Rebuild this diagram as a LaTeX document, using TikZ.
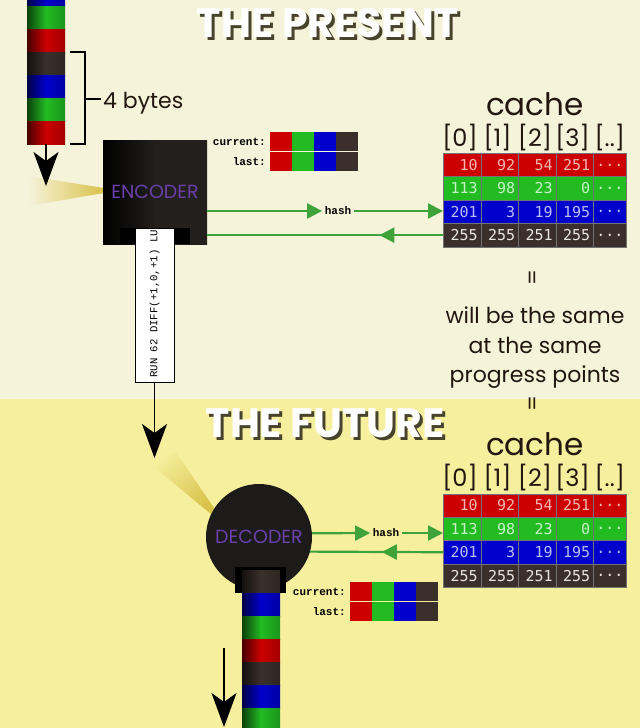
\documentclass[tikz,border=0pt]{standalone}
\usepackage{fontspec}
\setmainfont{Poppins}
\newfontfamily\cellfont{DejaVu Sans Mono}
\newfontfamily\typefont{Liberation Mono}
\usetikzlibrary{arrows.meta,decorations.markings,positioning}

\definecolor{bgtop}{HTML}{F6F3DB}
\definecolor{bgbot}{HTML}{F6EF9E}
\definecolor{bred}{HTML}{CC0000}
\definecolor{bgreen}{HTML}{22BB22}
\definecolor{bblue}{HTML}{0000CC}
\definecolor{bdark}{HTML}{3A2F2B}
\definecolor{tred}{HTML}{F4B4B4}
\definecolor{tgreen}{HTML}{C8F2C8}
\definecolor{tblue}{HTML}{BCBCF6}
\definecolor{tdark}{HTML}{E8E4E0}
\definecolor{wirecol}{HTML}{3FA33A}
\definecolor{boxtext}{HTML}{6A40A8}
\definecolor{beamcol}{HTML}{D8C24A}
\definecolor{inkcol}{HTML}{22160E}
\definecolor{shadowcol}{HTML}{48432C}
\definecolor{encgray}{HTML}{221F1D}
\definecolor{decgray}{HTML}{1D1B1A}

\tikzset{
  cell/.style={rectangle, anchor=north west, draw=black!55, line width=0.5pt,
    minimum width=37.5pt, minimum height=23.4pt, text width=31.5pt,
    inner xsep=3pt, inner ysep=0pt, align=right,
    font=\cellfont\fontsize{15}{15}\selectfont},
  dotcell/.style={minimum width=33pt, text width=27pt, align=center},
  headtext/.style={anchor=base, inner sep=0pt, text=inkcol, font=\fontsize{24}{24}\selectfont},
  pixcell/.style={rectangle, anchor=north west, minimum width=22pt, minimum height=19pt, inner sep=0pt},
  pixlabel/.style={inner sep=0pt, font=\typefont\bfseries\fontsize{11}{11}\selectfont},
  hashtext/.style={inner sep=2.5pt, font=\typefont\bfseries\fontsize{11}{11}\selectfont},
  titletext/.style={inner sep=0pt, font=\bfseries\fontsize{41}{41}\selectfont},
  bigtext/.style={anchor=base, inner sep=0pt, text=inkcol, font=\fontsize{31}{31}\selectfont},
  ink22/.style={inner sep=0pt, text=inkcol, font=\fontsize{22}{22}\selectfont},
  encbox/.style={rectangle, minimum width=104pt, minimum height=104pt, inner sep=0pt,
    left color=black, right color=encgray, middle color=encgray, text=boxtext,
    font=\fontsize{19}{19}\selectfont},
  decbox/.style={circle, minimum size=106pt, inner sep=0pt, outer sep=0pt,
    fill=decgray, text=boxtext, font=\fontsize{19}{19}\selectfont},
  tapebox/.style={rectangle, minimum width=39pt, minimum height=154pt, fill=white, draw=black, line width=1pt},
  wire/.style={draw=wirecol, line width=2.2pt},
  wiretip/.style={-{Triangle[length=15pt,width=15pt]}},
  midtip/.style={postaction={decorate}, decoration={markings,
    mark=at position #1 with {\arrow{Triangle[length=15pt,width=15pt]}}}},
  bigarrow/.style={draw=black, line width=1.6pt, -{Stealth[length=34pt,width=25pt,inset=9pt]}},
}

\newcommand{\bytestripe}[3]{%
  \shade[left color=#1!35!black, right color=#1!80!black, middle color=#1] (#2,#3) rectangle ++(38,23);}

\newcommand{\pixpair}[3]{%
  \foreach \c [count=\i from 0] in {bred,bgreen,bblue,bdark}{
    \node[pixcell, fill=\c] (#1-cur-\i) at ({#2+22*\i},#3) {};
    \node[pixcell, fill=\c] (#1-last-\i) at ({#2+22*\i},{#3+20}) {};
  }
  \node[pixlabel, left=4pt of #1-cur-0] (#1-curlab) {current:};
  \node[pixlabel, left=4pt of #1-last-0] (#1-lastlab) {last:};
}

\newcommand{\cachetable}[3]{%
  \foreach \fc/\tc/\vals [count=\r from 0] in {bred/tred/{10,92,54,251},bgreen/tgreen/{113,98,23,0},bblue/tblue/{201,3,19,195},bdark/tdark/{255,255,251,255}}{
    \foreach \v [count=\c from 0] in \vals
      \node[cell, fill=\fc, text=\tc] (#1-\r-\c) at ({#2+37.5*\c},{#3+23.4*\r}) {\v};
    \node[cell, dotcell, fill=\fc, text=\tc] (#1-\r-4) at ({#2+150},{#3+23.4*\r}) {...};
  }
  \foreach \c in {0,...,3}
    \node[headtext] (#1-h\c) at ([xshift=-2pt,yshift=7pt]#1-0-\c.north) {[\c]};
  \node[headtext] (#1-h4) at ([yshift=7pt]#1-0-4.north) {[..]};
}

\begin{document}
\begin{tikzpicture}[x=1pt,y=-1pt]
\useasboundingbox (0,0) rectangle (640,728);
\fill[bgtop] (0,0) rectangle (640,399);
\fill[bgbot] (0,399) rectangle (640,728);

% light beams
\shade[left color=bgtop, right color=beamcol] (28,176) -- (104,188) -- (104,193) -- (28,206) -- cycle;
\shade[top color=bgbot, bottom color=beamcol, shading angle=42] (146,460) -- (176,452) -- (216,511) -- (212,515) -- cycle;

% titles
\node[titletext, text=shadowcol] at (331,26) {THE PRESENT};
\node[titletext, text=white] (present) at (328,23) {THE PRESENT};
\node[titletext, text=shadowcol] at (328,426) {THE FUTURE};
\node[titletext, text=white] (future) at (325,423) {THE FUTURE};

% incoming bytes
\foreach \c [count=\i from 0] in {bblue,bgreen,bred,bdark,bblue,bgreen,bred}
  \bytestripe{\c}{27}{-17+23*\i};
\draw[line width=2pt] (70,52) -- (85,52) -- (85,144) -- (70,144);
\draw[line width=2pt] (85,99) -- (101,99);
\node[ink22, anchor=base west] (bytes) at (103,108) {4 bytes};
\coordinate (instart) at (46,144);
\coordinate (intip) at (46,186);
\draw[bigarrow] (instart) -- (intip);

% encoder
\node[encbox] (enc) at (155,192) {ENCODER};
\fill[black] (120,228) rectangle (190,244);
\node[tapebox] (tape) at (154.5,305) {};
\begin{scope}
\clip (tape.south west) rectangle (tape.north east);
\node[rotate=90, anchor=west, inner sep=0pt, font=\typefont\fontsize{10.7}{10.7}\selectfont] (tapetext) at (154.5,378) {RUN 62 DIFF(+1,0,+1) LU};
\end{scope}
\coordinate (futtip) at (154.5,458);
\draw[bigarrow] (tape.south) -- (futtip);

\pixpair{tp}{270}{132}

\node[bigtext] (tpcache) at (535,115) {cache};
\cachetable{tp}{443}{153}

\node[hashtext, fill=bgtop] (tphash) at (338,211) {hash};
\draw[wire, wiretip] (enc.east |- tphash) -- (tphash.west);
\draw[wire, wiretip] (tphash.east) -- (tphash -| tp-2-0.west);
\draw[wire, midtip=0.27] (tp-3-0.west) -- (enc.east |- tp-3-0.west);

% same state note
\node[ink22, rotate=90] (eqa) at (535,278) {=};
\node[ink22, anchor=base] (samea) at (535,323) {will be the same};
\node[ink22, anchor=base] (sameb) at (535,353) {at the same};
\node[ink22, anchor=base] (samec) at (535,382) {progress points};
\node[ink22, rotate=90] (eqb) at (535,404) {=};

% decoder
\node[bigtext] (btcache) at (535,455) {cache};
\cachetable{bt}{443}{493.5}
\node[decbox] (dec) at (259,537) {DECODER};
\fill[black] (235,567) rectangle (286,593);
\foreach \c [count=\i from 0] in {bdark,bblue,bgreen,bred,bdark,bblue,bgreen}
  \bytestripe{\c}{242}{570+23*\i};
\coordinate (outstart) at (224,648);
\coordinate (outtip) at (224,727);
\draw[bigarrow] (outstart) -- (outtip);

\pixpair{bt}{350}{582}

\node[hashtext, fill=bgbot] (bthash) at (386,533) {hash};
\draw[wire, wiretip] (dec.4.3) -- (bthash.west);
\draw[wire, wiretip] (bthash.east) -- (bthash -| bt-1-0.west);
\draw[wire, midtip=0.46] (bt-2-0.west) -- (dec.-16.4);
\end{tikzpicture}
\end{document}
